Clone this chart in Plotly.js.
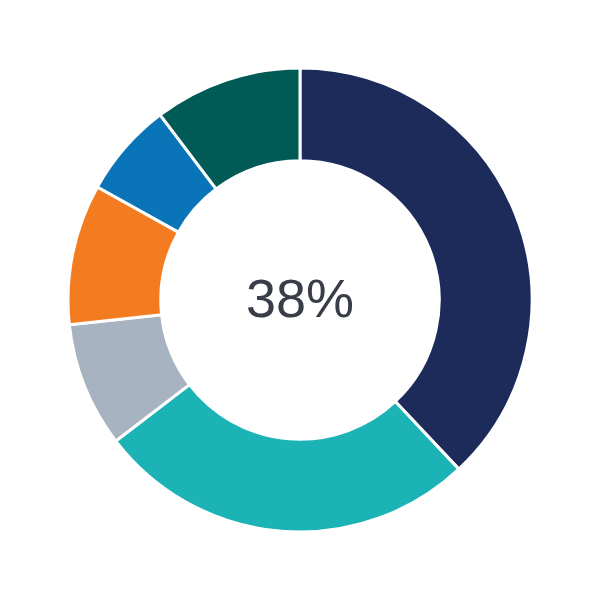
<!DOCTYPE html>
<html>
<head>
<meta charset="utf-8">
<script src="https://cdn.plot.ly/plotly-3.0.1.min.js"></script>
<style>
  html, body { margin: 0; padding: 0; background: #fff; }
  #myPlot { width: 600px; height: 600px; }
</style>
</head>
<body>
<div id="myPlot"></div>
<script>
// slices clockwise from 12 o'clock
let labels = ['A', 'B', 'C', 'D', 'E', 'F'];
let values = [38, 26.6, 8.7, 9.8, 6.6, 10.3];
let colors = ['#1c2b5a', '#1bb3b5', '#a8b3c1', '#f47c20', '#0a74b9', '#005a55'];
let centerText = '38%';

var trace = {
  type: 'pie',
  labels: labels,
  values: values,
  hole: 0.6,
  sort: false,
  direction: 'clockwise',
  rotation: 0,
  textinfo: 'none',
  hoverinfo: 'none',
  marker: { colors: colors, line: { color: '#ffffff', width: 3 } },
  showlegend: false
};

var layout = {
  width: 600,
  height: 600,
  margin: { l: 68, r: 68, t: 68, b: 68 },
  paper_bgcolor: '#ffffff',
  annotations: [{
    text: centerText,
    x: 0.5, y: 0.505,
    xref: 'paper', yref: 'paper',
    showarrow: false,
    font: { family: 'Liberation Sans, Arial, sans-serif', size: 54, color: '#383d48' }
  }]
};

Plotly.newPlot('myPlot', [trace], layout, { displayModeBar: false, staticPlot: true });
</script>
</body>
</html>
